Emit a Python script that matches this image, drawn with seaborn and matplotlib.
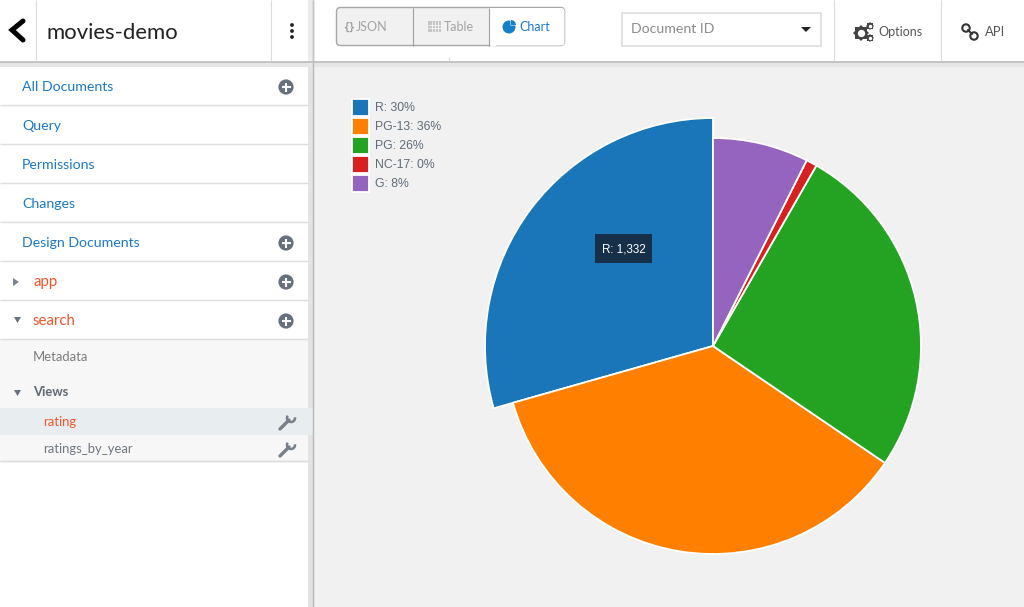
import matplotlib
matplotlib.use('Agg')
import matplotlib.pyplot as plt
import seaborn as sns
from matplotlib.patches import Rectangle, Circle, Polygon, FancyBboxPatch, Wedge, Arc

# chart data
ratings = ['R', 'PG-13', 'PG', 'NC-17', 'G']
counts = [1332, 1635, 1188, 38, 337]
legend_pct = [30, 36, 26, 0, 8]
slice_colors = ['#1a76b8', '#ff7f00', '#24a322', '#d92020', '#9564bf']
tooltip_text = 'R: 1,332'

# sidebar text
nav_items = ['All Documents', 'Query', 'Permissions', 'Changes', 'Design Documents']
nav_y = [87, 126, 165, 204, 243]
ddoc_items = ['app', 'search']
ddoc_y = [282, 321]
plus_y = [87, 243, 282, 321]
line_y = [105, 144, 183, 222, 261, 300, 339, 461]

BLUE = '#1b78c8'
RED = '#f1552a'
SLATE = '#66717d'
UI_FONT = 'Lato'
CHART_FONT = 'Liberation Sans'

sns.set_theme(style='white')
palette = sns.color_palette(slice_colors)

fig = plt.figure(figsize=(10.24, 6.07), dpi=100)
ax = fig.add_axes([0, 0, 1, 1])
ax.set_xlim(0, 1024)
ax.set_ylim(607, 0)
ax.axis('off')


def rect(x0, y0, x1, y1, color, **kw):
    ax.add_patch(Rectangle((x0, y0), x1 - x0, y1 - y0, facecolor=color, edgecolor='none', **kw))


def tri(points, color):
    ax.add_patch(Polygon(points, facecolor=color, edgecolor='none'))


def vline(x, y0, y1, color='#dcdcdc', lw=0.8):
    ax.plot([x, x], [y0, y1], color=color, lw=lw, solid_capstyle='butt')


def hline(y, x0, x1, color='#dedede', lw=1):
    ax.plot([x0, x1], [y, y], color=color, lw=lw, solid_capstyle='butt')


def label(x, y, s, size, color, family=UI_FONT, ha='left', **kw):
    ax.text(x, y, s, fontsize=size, color=color, family=family, ha=ha, va='center', **kw)


def plus_icon(x, y):
    ax.add_patch(Circle((x, y), 7.6, facecolor=SLATE, edgecolor='none'))
    hline(y, x - 4.5, x + 4.5, 'white', 1.5)
    vline(x, y - 4.5, y + 4.5, 'white', 1.5)


def wrench_icon(x, y):
    ax.plot([x - 7, x + 2], [y + 7, y - 2], color='#777f88', lw=2.4, solid_capstyle='round')
    ax.add_patch(Arc((x + 4, y - 4), 8, 8, angle=0, theta1=-10, theta2=215, color='#777f88', lw=1.8))


def gear_icon(x, y, size):
    ax.plot([x], [y], marker='s', ms=size * 0.78, color='#444444', mew=0)
    ax.plot([x], [y], marker='D', ms=size * 0.78, color='#444444', mew=0)
    ax.plot([x], [y], marker='o', ms=size * 0.5, color='white', mew=0)


# backgrounds
rect(0, 0, 1024, 607, '#f1f1f1')
rect(0, 0, 308, 607, 'white')
rect(308, 0, 313, 607, '#e4e4e4')
vline(312.8, 0, 607, '#b8b8b8', 1)
rect(0, 0, 1024, 61, 'white')
rect(0, 62, 1024, 67, '#e6e6e6')
hline(61.5, 0, 1024, '#bcbcbc', 1.2)
rect(308, 0, 313, 61, '#ececec')
vline(312.8, 0, 61, '#c4c4c4', 1)

# left header
ax.plot([23, 12, 23], [21, 30, 40], color='black', lw=3.6, solid_joinstyle='miter')
vline(36, 0, 61)
label(47, 33, 'movies-demo', 15.9, '#222222')
vline(271, 0, 61)
for dot_y in [25, 31, 37]:
    ax.add_patch(Circle((292, dot_y), 1.9, facecolor='#222222', edgecolor='none'))

# sidebar rows
rect(0, 339, 308, 461, '#f7f7f7')
rect(0, 408, 313, 435, '#e8edf0')
for y in line_y:
    hline(y, 0, 308)
for name, y in zip(nav_items, nav_y):
    label(22, y, name, 10.2, BLUE)
for name, y in zip(ddoc_items, ddoc_y):
    label(33, y, name, 10.8, RED)
for y in plus_y:
    plus_icon(286, y)
tri([[13, 278], [19, 282], [13, 286]], '#7a8490')
tri([[14, 317], [21, 317], [17.5, 323]], SLATE)
tri([[14, 390], [21, 390], [17.5, 396]], SLATE)
label(33, 357, 'Metadata', 9.4, '#7b7b7b')
label(33, 392, 'Views', 9.4, '#5f6974', fontweight='bold')
label(43, 422, 'rating', 9.4, RED)
label(43, 449, 'ratings_by_year', 9.4, '#6f7680')
wrench_icon(287, 422)
wrench_icon(287, 449)
hline(461, 0, 308)

# button group
ax.add_patch(FancyBboxPatch((336.5, 7.5), 228, 38, boxstyle='round,pad=0,rounding_size=4',
                            facecolor='#f1f1f1', edgecolor='#a8a8a8', lw=1))
ax.add_patch(FancyBboxPatch((489, 8), 75.5, 37.5, boxstyle='round,pad=0,rounding_size=3.5',
                            facecolor='white', edgecolor='none'))
rect(489, 8, 496, 45.5, 'white')
vline(413, 7.5, 45.5, '#a0a0a0')
vline(489, 7.5, 45.5, '#a0a0a0')
label(343, 27, '{}', 7, '#9d9d9d', family='DejaVu Sans Mono', fontweight='bold')
label(356, 27, 'JSON', 9, '#a3a3a3')
# table icon
rect(428, 21, 441, 32, '#c6c6c6')
for gx in [431.5, 435, 438]:
    vline(gx, 21, 32, 'white', 0.5)
for gy in [24.5, 28]:
    hline(gy, 428, 441, 'white', 0.5)
label(444, 27, 'Table', 9, '#a3a3a3')
# pie icon on the chart button
ax.add_patch(Circle((509, 27), 6.5, facecolor='#1580c8', edgecolor='none'))
ax.add_patch(Wedge((510.5, 25.5), 6, 270, 360, facecolor='white', edgecolor='none'))
ax.add_patch(Wedge((511, 25), 5, 270, 360, facecolor='#1580c8', edgecolor='none'))
label(519, 27, 'Chart', 9, BLUE)

# document id box
ax.add_patch(Rectangle((621.5, 12.5), 199, 33, facecolor='white', edgecolor='#dddddd', lw=1.2))
label(631, 29, 'Document ID', 10.2, '#8c8c8c')
tri([[801, 27], [811, 27], [806, 32]], '#222222')

# right header
vline(834, 0, 61)
vline(941, 0, 61)
vline(449, 57, 61)
gear_icon(861, 33, 10.5)
gear_icon(869.5, 26, 5)
gear_icon(869.5, 37.5, 5)
label(878, 31.5, 'Options', 9, '#555555')
ax.add_patch(Circle((966, 28), 3.7, facecolor='none', edgecolor='#333333', lw=1.5))
ax.add_patch(Circle((974, 36), 3.7, facecolor='none', edgecolor='#333333', lw=1.5))
ax.plot([968, 972], [30, 34], color='#333333', lw=1.5)
label(985, 31.5, 'API', 9.4, '#555555')

# pie, in its own axes centred on the chart area
cx, cy, half = 713, 346, 240
ax_pie = fig.add_axes([(cx - half) / 1024, 1 - (cy + half) / 607, 2 * half / 1024, 2 * half / 607])
wedges, _ = ax_pie.pie(counts, colors=palette, startangle=90, counterclock=True, radius=208,
                       wedgeprops=dict(edgecolor='white', linewidth=1.3))
ax_pie.set_xlim(-half, half)
ax_pie.set_ylim(-half, half)
ax_pie.set_aspect('equal')
ax_pie.patch.set_alpha(0)
# hovered slice is drawn larger
wedges[0].set_radius(228)

ax_pie.add_patch(Rectangle((-118, 83), 57, 29, facecolor='#17304a', edgecolor='none', zorder=5))
ax_pie.text(-89.5, 97, tooltip_text, fontsize=8.4, color='white', family=CHART_FONT,
            ha='center', va='center', zorder=6)

legend_labels = [f'{r}: {p}%' for r, p in zip(ratings, legend_pct)]
fig.legend(wedges, legend_labels, loc='upper left', bbox_to_anchor=(352 / 1024, 1 - 99 / 607),
           frameon=False, prop={'family': CHART_FONT, 'size': 8.8}, labelcolor='#5f6b78',
           handlelength=1.39, handleheight=1.76, handletextpad=0.52, labelspacing=0.16,
           borderpad=0, borderaxespad=0)

fig.savefig('out.png', dpi=100)
